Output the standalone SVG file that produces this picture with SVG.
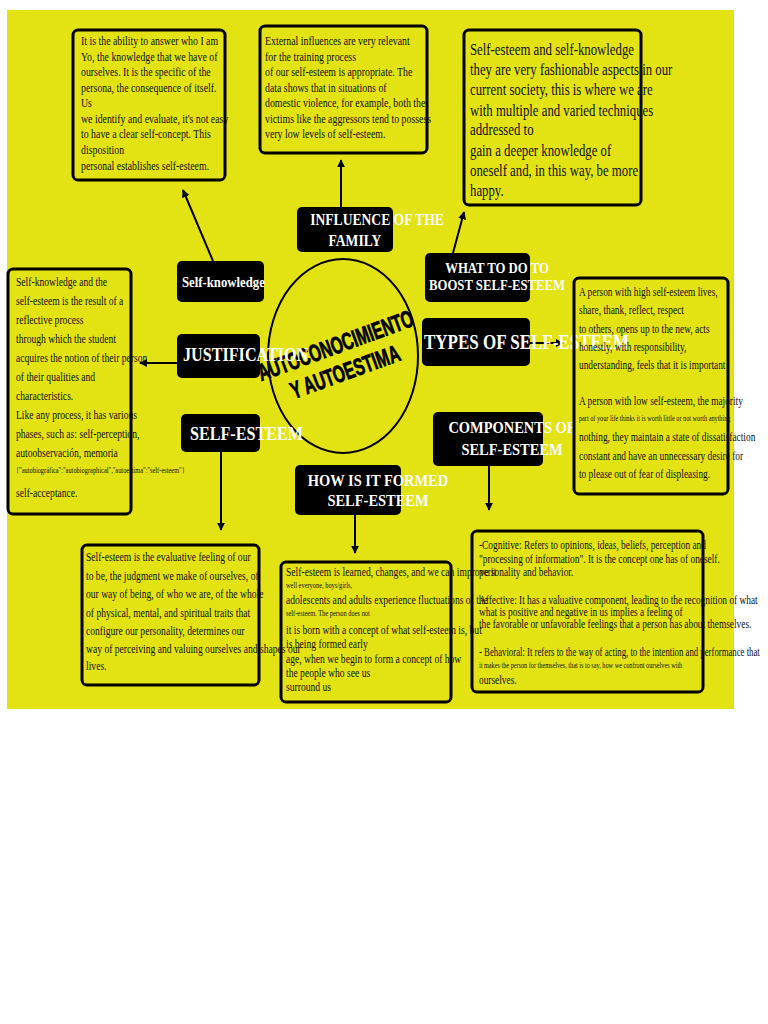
<svg xmlns="http://www.w3.org/2000/svg" width="768" height="1024" viewBox="0 0 768 1024">
<defs>
<marker id="ah" viewBox="0 0 10 10" refX="9" refY="5" markerWidth="4" markerHeight="4" orient="auto"><path d="M0,0L10,5L0,10z" fill="#000"/></marker>
</defs>
<style>
.box{fill:none;stroke:#000;stroke-width:3}
.node{fill:#000}
.t{font-family:"Liberation Serif",serif;font-size:12px;fill:#111}
.s{font-size:8px}
.big{font-size:16px}
.w{font-family:"Liberation Serif",serif;font-weight:bold;fill:#fff}
.c{stroke:#000;stroke-width:2;fill:none;marker-end:url(#ah)}
</style>
<rect width="768" height="1024" fill="#fff"/>
<rect x="7" y="10" width="727" height="699" fill="#e3e314"/>
<g id="connectors">
<line class="c" x1="213" y1="261" x2="183" y2="190"/>
<line class="c" x1="341" y1="207" x2="341" y2="160"/>
<line class="c" x1="453" y1="253" x2="464" y2="212"/>
<line class="c" x1="177" y1="363" x2="140" y2="363"/>
<line class="c" x1="530" y1="343" x2="563" y2="343"/>
<line class="c" x1="221" y1="452" x2="221" y2="530"/>
<line class="c" x1="355" y1="515" x2="355" y2="553"/>
<line class="c" x1="489" y1="466" x2="489" y2="510"/>
</g>
<g id="center">
<ellipse cx="343" cy="356" rx="75" ry="97" fill="none" stroke="#000" stroke-width="2"/>
<g transform="translate(340,358) rotate(-20) scale(0.64,1)" font-family="Liberation Sans,sans-serif" font-weight="bold" font-size="24" text-anchor="middle" stroke="#000" stroke-width="0.8">
<text x="0" y="-5">AUTOCONOCIMIENTO</text><text x="0" y="23">Y AUTOESTIMA</text></g>
</g>
<g id="n-influence"><rect class="node" x="297" y="207" width="96" height="45" rx="5"/>
<g transform="translate(377,0) scale(0.85,1)" text-anchor="middle" font-size="16" class="w"><text x="0" y="225" class="w">INFLUENCE OF THE</text><text x="-26" y="246" class="w">FAMILY</text></g></g>
<g id="n-selfknowledge"><rect class="node" x="177" y="261" width="87" height="41" rx="5"/>
<g transform="translate(182,0) scale(0.85,1)"><text x="0" y="287" class="w" font-size="15">Self-knowledge</text></g></g>
<g id="n-whattodo"><rect class="node" x="425" y="253" width="105" height="49" rx="5"/>
<g transform="translate(497,0) scale(0.85,1)" text-anchor="middle"><text x="0" y="273" class="w" font-size="15">WHAT TO DO TO</text><text x="0" y="290" class="w" font-size="15">BOOST SELF-ESTEEM</text></g></g>
<g id="n-justification"><rect class="node" x="177" y="334" width="83" height="44" rx="5"/>
<g transform="translate(183,0) scale(0.85,1)"><text x="0" y="361" class="w" font-size="19">JUSTIFICATION</text></g></g>
<g id="n-types"><rect class="node" x="422" y="318" width="108" height="48" rx="5"/>
<g transform="translate(424,0) scale(0.85,1)"><text x="0" y="349" class="w" font-size="20">TYPES OF SELF-ESTEEM</text></g></g>
<g id="n-selfesteem"><rect class="node" x="181" y="414" width="79" height="38" rx="5"/>
<g transform="translate(190,0) scale(0.85,1)"><text x="0" y="440" class="w" font-size="19">SELF-ESTEEM</text></g></g>
<g id="n-components"><rect class="node" x="433" y="412" width="110" height="54" rx="5"/>
<g transform="translate(512,0) scale(0.85,1)" text-anchor="middle"><text x="0" y="433" class="w" font-size="17">COMPONENTS OF</text><text x="0" y="455" class="w" font-size="17">SELF-ESTEEM</text></g></g>
<g id="n-howformed"><rect class="node" x="295" y="465" width="106" height="50" rx="5"/>
<g transform="translate(378,0) scale(0.85,1)" text-anchor="middle"><text x="0" y="486" class="w" font-size="17">HOW IS IT FORMED</text><text x="0" y="506" class="w" font-size="17">SELF-ESTEEM</text></g></g>
<g id="b1"><rect class="box" x="73" y="30" width="152" height="150" rx="5"/>
<g transform="translate(81,0) scale(0.82,1)" class="t">
<text y="45">It is the ability to answer who I am</text><text y="61">Yo, the knowledge that we have of</text><text y="76">ourselves. It is the specific of the</text><text y="92">persona, the consequence of itself.</text><text y="107">Us</text><text y="123">we identify and evaluate, it's not easy</text><text y="138">to have a clear self-concept. This</text><text y="154">disposition</text><text y="170">personal establishes self-esteem.</text></g></g>
<g id="b2"><rect class="box" x="260" y="26" width="167" height="127" rx="5"/>
<g transform="translate(265,0) scale(0.82,1)" class="t">
<text y="45">External influences are very relevant</text><text y="61">for the training process</text><text y="76">of our self-esteem is appropriate. The</text><text y="92">data shows that in situations of</text><text y="107">domestic violence, for example, both the</text><text y="123">victims like the aggressors tend to possess</text><text y="138">very low levels of self-esteem.</text></g></g>
<g id="b3"><rect class="box" x="464" y="30" width="177" height="175" rx="5"/>
<g transform="translate(470,0) scale(0.8,1)" class="t big">
<text y="55">Self-esteem and self-knowledge</text><text y="75">they are very fashionable aspects in our</text><text y="95">current society, this is where we are</text><text y="116">with multiple and varied techniques</text><text y="135">addressed to</text><text y="156">gain a deeper knowledge of</text><text y="176">oneself and, in this way, be more</text><text y="196">happy.</text></g></g>
<g id="b4"><rect class="box" x="8" y="269" width="123" height="245" rx="5"/>
<g transform="translate(16,0) scale(0.8,1)" class="t">
<text y="286">Self-knowledge and the</text><text y="305">self-esteem is the result of a</text><text y="324">reflective process</text><text y="343">through which the student</text><text y="362">acquires the notion of their person</text><text y="381">of their qualities and</text><text y="400">characteristics.</text><text y="419">Like any process, it has various</text><text y="438">phases, such as: self-perception,</text><text y="457">autoobservación, memoria</text><text y="473" class="s">{"autobiográfica":"autobiographical","autoestima":"self-esteem"}</text><text y="497">self-acceptance.</text></g></g>
<g id="b5"><rect class="box" x="574" y="278" width="154" height="216" rx="5"/>
<g transform="translate(579,0) scale(0.78,1)" class="t">
<text y="296">A person with high self-esteem lives,</text><text y="314">share, thank, reflect, respect</text><text y="333">to others, opens up to the new, acts</text><text y="351">honestly, with responsibility,</text><text y="369">understanding, feels that it is important</text><text y="405">A person with low self-esteem, the majority</text><text y="421" class="s">part of your life thinks it is worth little or not worth anything</text><text y="441">nothing, they maintain a state of dissatisfaction</text><text y="460">constant and have an unnecessary desire for</text><text y="478">to please out of fear of displeasing.</text></g></g>
<g id="b6"><rect class="box" x="82" y="545" width="177" height="140" rx="5"/>
<g transform="translate(86,0) scale(0.8,1)" class="t">
<text y="561">Self-esteem is the evaluative feeling of our</text><text y="580">to be, the judgment we make of ourselves, of</text><text y="598">our way of being, of who we are, of the whole</text><text y="617">of physical, mental, and spiritual traits that</text><text y="635">configure our personality, determines our</text><text y="653">way of perceiving and valuing ourselves and shapes our</text><text y="670">lives.</text></g></g>
<g id="b7"><rect class="box" x="281" y="562" width="170" height="140" rx="5"/>
<g transform="translate(286,0) scale(0.8,1)" class="t">
<text y="576">Self-esteem is learned, changes, and we can improve it</text><text y="588" class="s">well everyone, boys/girls,</text><text y="604">adolescents and adults experience fluctuations of the</text><text y="616" class="s">self-esteem. The person does not</text><text y="634">it is born with a concept of what self-esteem is, but</text><text y="648">is being formed early</text><text y="663">age, when we begin to form a concept of how</text><text y="677">the people who see us</text><text y="691">surround us</text></g></g>
<g id="b8"><rect class="box" x="472" y="531" width="231" height="161" rx="5"/>
<g transform="translate(479,0) scale(0.78,1)" class="t">
<text y="549">-Cognitive: Refers to opinions, ideas, beliefs, perception and</text><text y="563">"processing of information". It is the concept one has of oneself.</text><text y="576">personality and behavior.</text><text y="604">Affective: It has a valuative component, leading to the recognition of what</text><text y="616">what is positive and negative in us implies a feeling of</text><text y="628">the favorable or unfavorable feelings that a person has about themselves.</text><text y="656" textLength="360" lengthAdjust="spacingAndGlyphs">- Behavioral: It refers to the way of acting, to the intention and performance that</text><text y="668" class="s">it makes the person for themselves, that is to say, how we confront ourselves with</text><text y="684">ourselves.</text></g></g>
</svg>
